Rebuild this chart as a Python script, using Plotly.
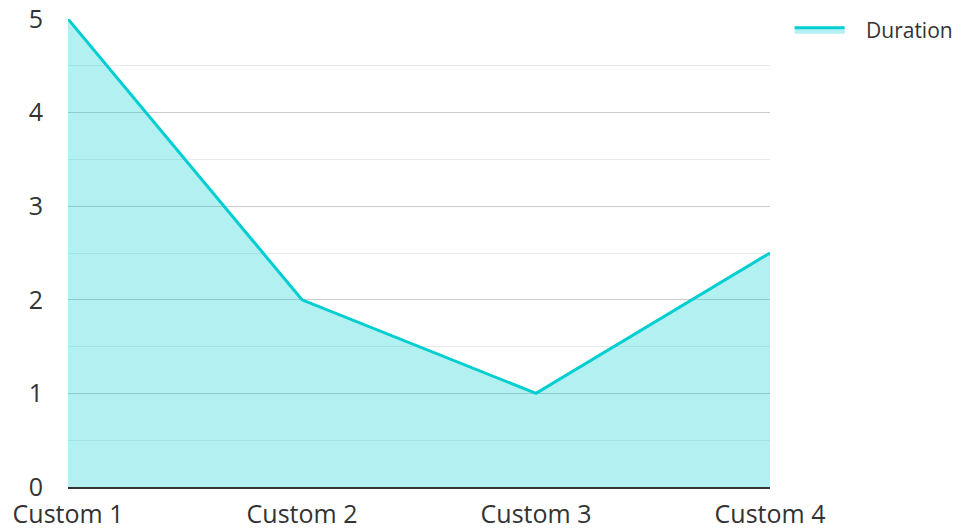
import plotly.graph_objects as go

categories = ["Custom 1", "Custom 2", "Custom 3", "Custom 4"]
duration = [5, 2, 1, 2.5]

fig = go.Figure()
fig.add_trace(go.Scatter(
    x=categories, y=duration, name="\u00a0\u00a0\u00a0Duration", mode="lines",
    line=dict(color="#00CED1", width=3),
    fill="tozeroy", fillcolor="rgba(0,206,209,0.3)",
))

fig.update_layout(
    width=960, height=528,
    margin=dict(l=68, r=190, t=19, b=41, autoexpand=False),
    paper_bgcolor="white", plot_bgcolor="white",
    font=dict(family="Open Sans", size=25, color="#333333"),
    showlegend=True,
    legend=dict(x=1.028, y=1.02, xanchor="left", yanchor="top",
                font=dict(size=21, color="#333333"), itemwidth=50),
    xaxis=dict(range=[0, 3], showgrid=False, showline=True, automargin=False,
               linecolor="#333333", linewidth=2, ticks="",
               tickfont=dict(size=25), ticklabelstandoff=4, zeroline=False,
               ticklabeloverflow="allow"),
    yaxis=dict(range=[0, 5], dtick=1, showgrid=True, gridcolor="#cccccc",
               gridwidth=1, zeroline=False, showline=False, ticks="",
               automargin=False, ticklabeloverflow="allow",
               tickfont=dict(size=25), ticklabelstandoff=24,
               minor=dict(dtick=0.5, showgrid=True, gridcolor="#eaeaea",
                          gridwidth=1)),
)

fig.write_html(
    "out.html",
    config={"displayModeBar": False},
    post_script="document.body.style.margin='0';document.body.style.overflow='hidden';",
)
